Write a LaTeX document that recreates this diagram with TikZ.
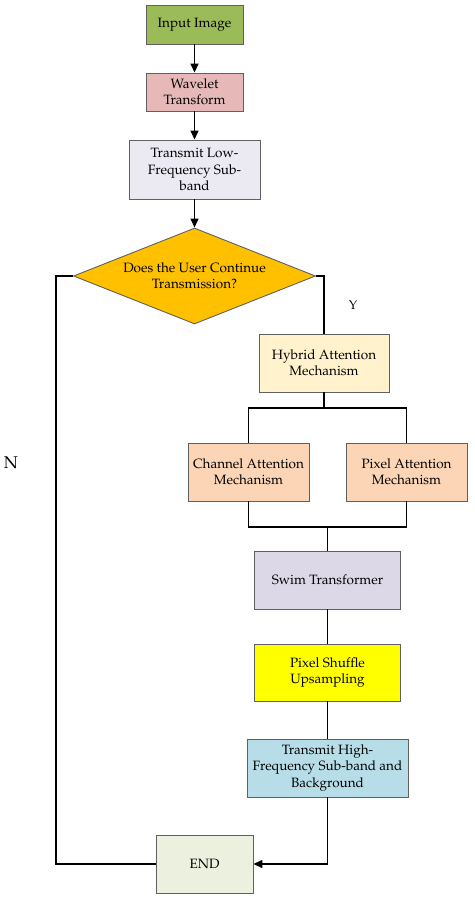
\documentclass[tikz,border=0pt]{standalone}
\usepackage[T1]{fontenc}
\usepackage{mathpazo}
\usetikzlibrary{shapes.geometric,arrows.meta}
\definecolor{cgreen}{HTML}{9BBB59}
\definecolor{cpink}{HTML}{E6B8B7}
\definecolor{clav}{HTML}{EBE9F1}
\definecolor{corange}{HTML}{FFC000}
\definecolor{chyb}{HTML}{FFF2CC}
\definecolor{cpeach}{HTML}{FBD5B5}
\definecolor{cswim}{HTML}{DCD8E8}
\definecolor{cyel}{HTML}{FFFF00}
\definecolor{cblue}{HTML}{B7DEE8}
\definecolor{cend}{HTML}{EBF1DE}
\definecolor{cborder}{HTML}{606060}
\begin{document}
\begin{tikzpicture}[x=1pt,y=-1pt,
  box/.style={draw=cborder, line width=0.9pt, inner sep=0pt, align=center,
    font=\fontsize{13.5}{16.5}\selectfont},
  conn/.style={line width=1.4pt, black},
  arr/.style={conn, -{Triangle[length=9pt,width=8pt]}},
  lbl/.style={inner sep=0pt}]
\useasboundingbox (0,0) rectangle (474,899);
\node[box, fill=cgreen, minimum width=97pt, minimum height=39pt] (input) at (194.5,24.5) {Input Image};
\node[box, fill=cpink, minimum width=97pt, minimum height=38pt] (wave) at (194.5,92) {Wavelet\\Transform};
\node[box, fill=clav, minimum width=131pt, minimum height=59pt] (low) at (194.5,169.5) {Transmit Low-\\Frequency Sub-\\band};
\node[box, diamond, aspect=2.52, fill=corange, minimum width=242pt, minimum height=96pt] (dia) at (194.5,276) {Does the User Continue\\Transmission?};
\node[box, fill=chyb, minimum width=130pt, minimum height=58pt] (hyb) at (324,363) {Hybrid Attention\\Mechanism};
\node[box, fill=cpeach, minimum width=121pt, minimum height=58pt] (chan) at (248.5,472) {Channel Attention\\Mechanism};
\node[box, fill=cpeach, minimum width=121pt, minimum height=58pt] (pixa) at (406.5,472) {Pixel Attention\\Mechanism};
\node[box, fill=cswim, minimum width=146pt, minimum height=58pt] (swim) at (327.5,580) {Swim Transformer};
\node[box, fill=cyel, minimum width=146pt, minimum height=57pt] (shuf) at (327.5,672.5) {Pixel Shuffle\\Upsampling};
\node[box, fill=cblue, minimum width=161pt, minimum height=58pt] (high) at (327.5,768) {Transmit High-\\Frequency Sub-band and\\Background};
\node[box, fill=cend, minimum width=97pt, minimum height=58pt] (endn) at (204.5,864) {END};
\node[lbl, font=\fontsize{12.5}{14}\selectfont] (ylab) at (353,305) {Y};
\node[lbl, font=\fontsize{17}{19}\selectfont] (nlab) at (11,463) {N};
\coordinate (nL) at (56,276);
\coordinate (bt) at (324,408);
\coordinate (bb) at (327.5,527);
\draw[arr] (input) -- (wave);
\draw[arr] (wave) -- (low);
\draw[arr] (low) -- (dia);
\draw[conn] (dia.east) -| (hyb.north);
\draw[conn] (dia.west) -- (nL) |- (endn.west);
\draw[conn] (hyb.south) -- (bt);
\draw[conn] (chan.north) |- (bt) -| (pixa.north);
\draw[conn] (chan.south) |- (bb) -| (pixa.south);
\draw[conn] (bb) -- (swim.north);
\draw[conn] (swim) -- (shuf);
\draw[conn] (shuf) -- (high);
\draw[arr] (high.south) |- (endn.east);
\end{tikzpicture}
\end{document}
